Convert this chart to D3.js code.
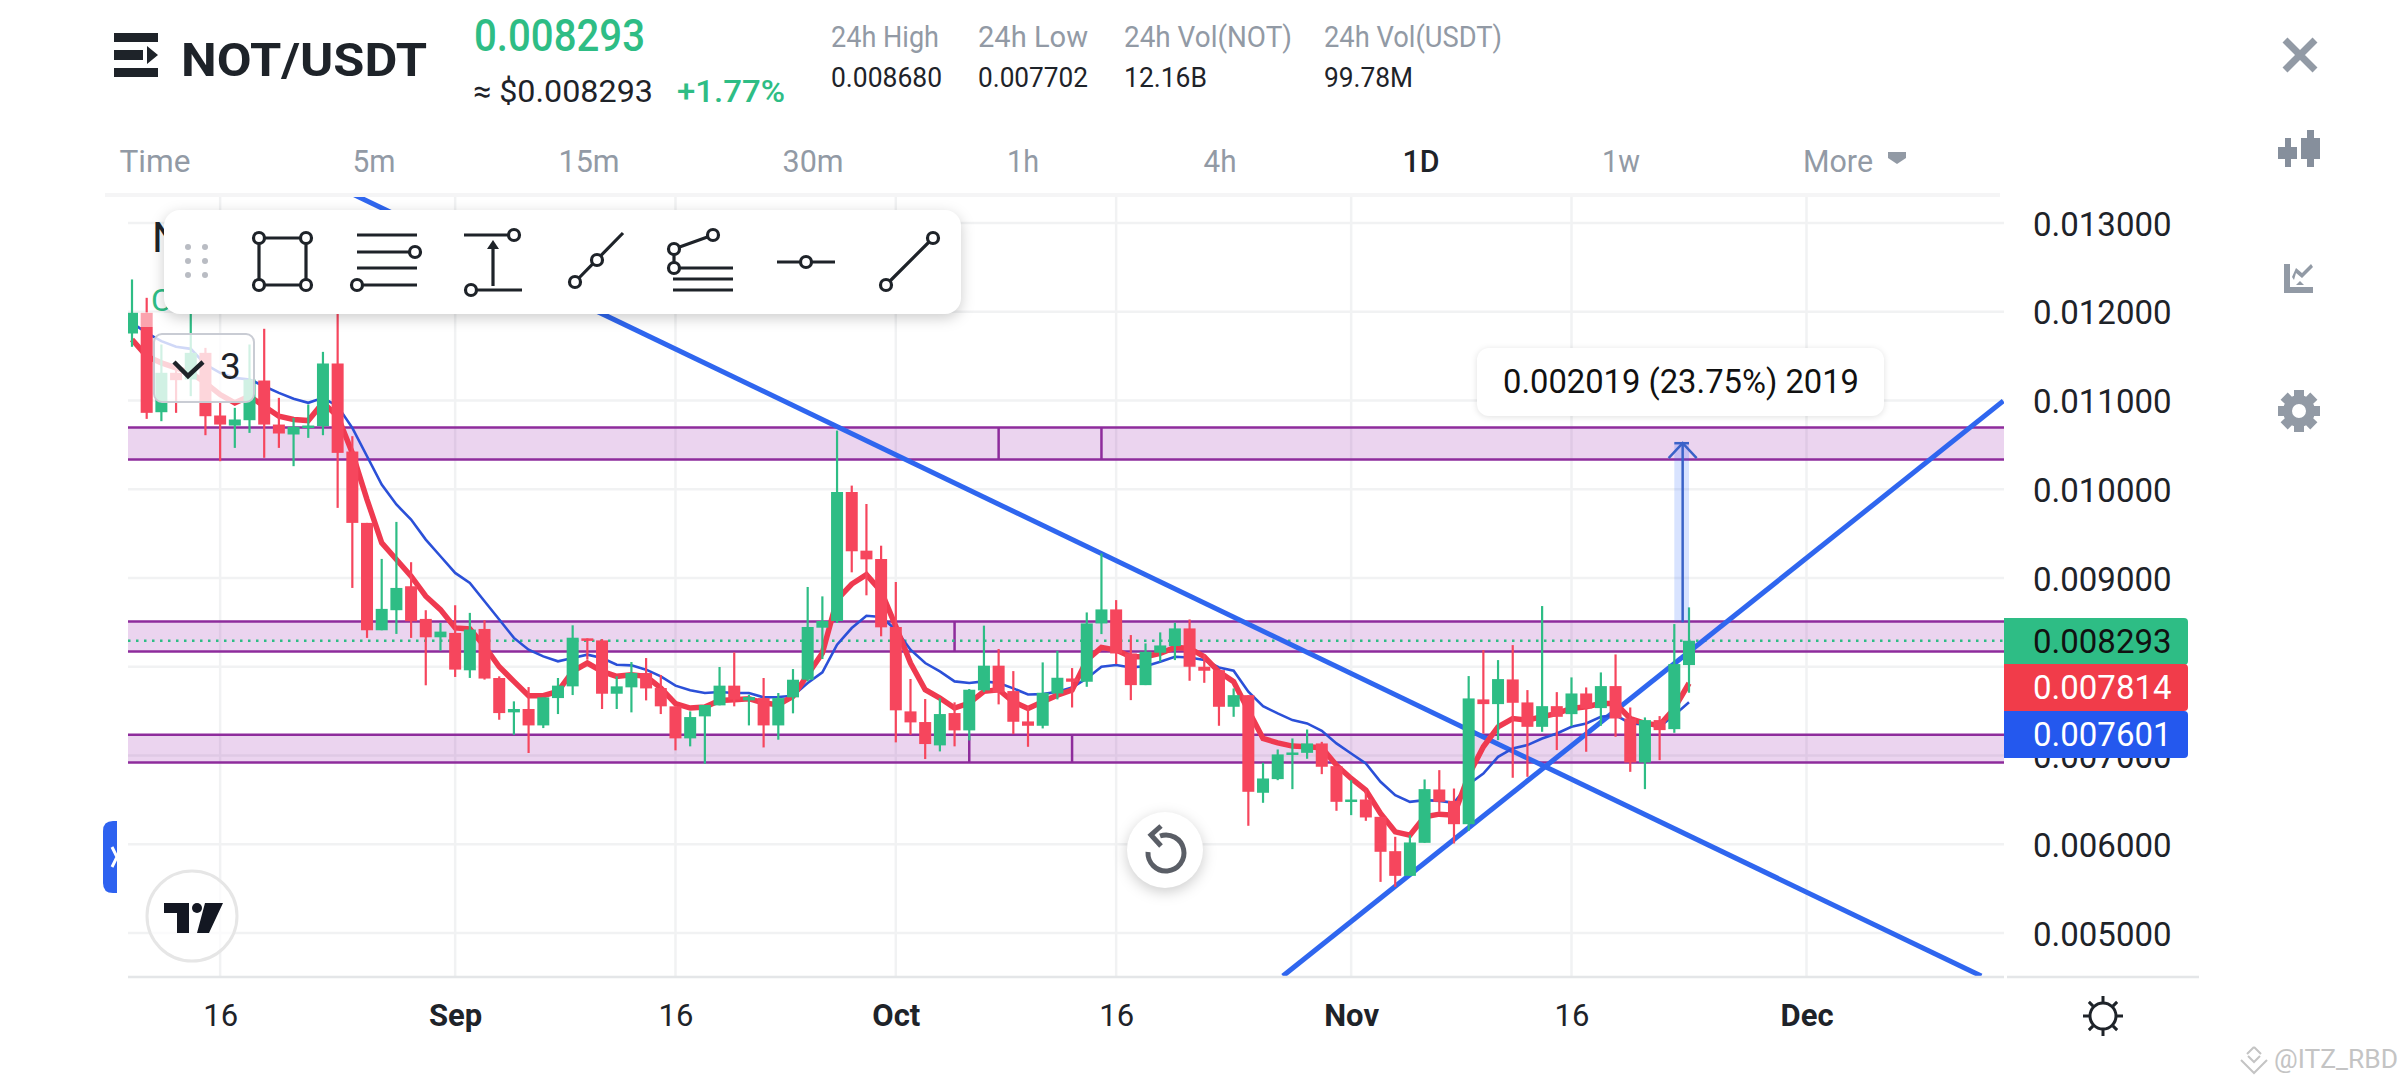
<!DOCTYPE html>
<html>
<head>
<meta charset="utf-8">
<script src="https://cdn.jsdelivr.net/npm/d3@7"></script>
<style>
  html, body { margin: 0; background: #fff; }
  svg { display: block; font-family: Roboto, sans-serif; }
  .soft { filter: drop-shadow(0 4px 7px rgba(0,0,0,.2)); }
  .faint { filter: drop-shadow(0 1px 3px rgba(0,0,0,.12)); }
  .axis path { display: none; }
  .axis line { display: none; }
</style>
</head>
<body>
<svg id="chart" width="2400" height="1080"></svg>
<script>
// all prices in millionths of a USDT, one entry per daily bar
const opens = [11755,11988,10868,11312,11237,11537,10831,10718,10778,11225,10729,10617,10703,10711,11417,10425,9621,8411,8637,8907,8539,8332,8381,7960,8426,7873,7486,7524,7339,7647,7779,8320,8297,7696,7768,7929,7760,7554,7193,7441,7565,7787,7621,7647,7339,7655,7854,8440,8515,9969,9308,9214,8448,7497,7377,7114,7478,7283,7734,8012,7726,7384,7335,7699,7868,7831,8488,8646,8150,7793,8158,8233,8432,8000,7962,7549,7680,6580,6734,7012,7030,7136,6880,6482,6504,6309,5922,5644,6016,6617,6489,6226,7632,7579,7857,7598,7323,7556,7466,7699,7534,7782,7417,6922,7399,7297,8019];
const highs = [12364,12157,11631,11420,12200,11593,10974,10917,11631,11808,11030,10804,10955,11548,12050,10598,9621,9215,9632,9178,8637,8494,8693,8607,8524,7892,7610,7771,7655,7873,8467,8320,8312,7892,8053,8098,7907,7554,7497,7569,7997,8162,7685,7873,7704,7974,8899,8793,10661,10041,9834,9364,8955,7862,7636,7647,7599,7749,8463,8200,7951,7549,8049,8180,7985,8612,9277,8751,8357,8263,8387,8496,8533,8139,7962,7756,7680,6918,7068,7192,7293,7154,6880,6722,6610,6309,6084,6102,6730,6835,6628,7895,8188,8075,8244,7737,8684,7714,7880,7767,7936,8139,7541,7429,7444,8481,8669];
const lows = [11605,10793,10767,10861,11049,10609,10316,10466,10635,10354,10466,10260,10579,10609,9790,8888,8325,8411,8370,8325,7791,8182,7885,7874,7855,7403,7234,7028,7309,7467,7681,8080,7524,7524,7486,7621,7467,7058,7103,6907,7565,7554,7339,7091,7178,7475,7835,8087,8493,9064,8805,8343,7148,7234,6960,7046,7103,7170,7715,7576,7241,7098,7305,7632,7541,7774,8368,8030,7624,7793,8056,8075,7842,7819,7335,7436,6208,6467,6722,6621,6963,6790,6377,6328,6264,5576,5520,5644,6016,6365,6009,6151,7248,7173,6749,6760,7267,7061,7331,7042,7335,7211,6816,6621,6948,7256,7707];
const closes = [11988,10861,11312,11229,11537,10823,10729,10786,11237,10729,10628,10703,10718,11417,10410,9621,8411,8652,8888,8513,8332,8396,7968,8419,7867,7478,7524,7339,7655,7787,8327,8305,7696,7779,7929,7756,7554,7193,7433,7569,7787,7629,7659,7339,7647,7854,8448,8515,9969,9301,9210,8444,7509,7373,7129,7467,7283,7741,8012,7711,7380,7335,7707,7876,7831,8488,8646,8150,7793,8169,8240,8432,8000,7955,7549,7680,6591,6741,7012,7034,7136,6873,6478,6504,6302,5915,5644,6020,6621,6478,6226,7643,7579,7861,7594,7323,7556,7436,7699,7530,7782,7417,6922,7399,7286,8030,8293];

const maFast = [11687,11500,11424,11368,11312,11199,11067,10974,11049,10936,10823,10786,10774,10974,10823,10410,9884,9396,9208,9020,8795,8644,8438,8426,8231,8000,7835,7674,7674,7723,7948,8042,7948,7892,7910,7892,7760,7584,7535,7546,7621,7629,7640,7591,7572,7666,7910,8155,8756,8932,9038,8850,8455,8042,7741,7647,7535,7591,7723,7741,7605,7530,7605,7680,7737,8075,8218,8188,8113,8113,8150,8218,8206,8113,7943,7831,7511,7192,7143,7106,7098,7087,6891,6741,6610,6347,6140,6102,6309,6339,6328,6779,7098,7323,7417,7399,7436,7474,7530,7549,7586,7586,7417,7361,7342,7530,7814];
const maSlow = [11875,11762,11669,11605,11582,11406,11312,11255,11237,11161,11086,11019,10974,11030,10936,10692,10372,10053,9828,9659,9433,9245,9057,8945,8738,8532,8325,8192,8117,8061,8098,8136,8098,8023,8016,7967,7892,7787,7734,7704,7715,7704,7704,7655,7659,7674,7817,7937,8249,8436,8575,8560,8418,8192,8042,7948,7835,7817,7835,7817,7756,7688,7692,7718,7767,7868,8000,8019,7992,8007,8056,8113,8105,8075,7992,7955,7718,7556,7474,7399,7361,7278,7136,7023,6910,6704,6553,6478,6497,6489,6467,6677,6797,6985,7079,7117,7192,7248,7323,7361,7436,7455,7361,7350,7323,7455,7601];

// drawn objects
const zoneTops = [10696, 8509, 7234];
const zoneBottoms = [10335, 8171, 6922];
const zoneDividers = [[59, 66], [56], [57, 64]];
const trendDownBars = [15, 125.9];
const trendDownPrices = [13328, 4515];
const trendUpBars = [78.35, 127.4];
const trendUpPrices = [4515, 10995];
const measureBars = [105, 106];
const measurePrices = [8500, 10519];
const lastPrices = [8293, 7814, 7601];

const yTicks = [5000, 6000, 7000, 8000, 9000, 10000, 11000, 12000, 13000];
// the 0.008000 label sits fully under the price tags, so it is not drawn
const yTickLabels = [5000, 6000, 7000, 9000, 10000, 11000, 12000, 13000];
const xTickBars = [6, 22, 37, 52, 67, 83, 98, 114];
const xTickLabels = ['16', 'Sep', '16', 'Oct', '16', 'Nov', '16', 'Dec'];

const tabs = ['Time', '5m', '15m', '30m', '1h', '4h', '1D', '1w', 'More'];
const tabCenters = [155, 374, 589, 813, 1023, 1220, 1421, 1621, 1838];
const tabWidths = [71, 43, 61, 61, 32, 33, 37, 38, 70];
const statNames = ['24h High', '24h Low', '24h Vol(NOT)', '24h Vol(USDT)'];
const statValues = ['0.008680', '0.007702', '12.16B', '99.78M'];
const statLefts = [831, 978, 1124, 1324];

const GREEN = '#2ebd85', RED = '#f6465d', INK = '#1e2329', GREY = '#929aa5';
const plotL = 128, plotR = 2004, plotT = 197, plotB = 976;

const svg = d3.select('#chart');
const x = d3.scaleLinear().domain([0, 106]).range([132, 1689]);
const y = d3.scaleLinear().domain([5000, 13000]).range([933, 223]);
const fmt = v => (v / 1e6).toFixed(6);

svg.append('defs').append('clipPath').attr('id', 'plot')
  .append('rect').attr('x', plotL).attr('y', plotT).attr('width', plotR - plotL).attr('height', plotB - plotT);

function label(parent, str, px, py, size, fill, weight, width, anchor) {
  const t = parent.append('text').attr('x', px).attr('y', py).attr('font-size', size)
    .attr('fill', fill).attr('font-weight', weight || 400).attr('text-anchor', anchor || 'start').text(str);
  if (width) t.attr('textLength', width).attr('lengthAdjust', 'spacingAndGlyphs');
  return t;
}

// header
const head = svg.append('g');
head.append('path').attr('fill', INK)
  .attr('d', 'M114 33H158V42H114ZM114 50H143V60H114ZM147 46L158 55L147 64ZM114 68H158V77H114Z');
label(head, 'NOT/USDT', 181, 76, 47, INK, 700, 246);
label(head, '0.008293', 474, 51, 44, GREEN, 500, 171);
label(head, '≈ $0.008293', 473, 102, 31, INK, 400, 180);
label(head, '+1.77%', 677, 102, 31, GREEN, 500, 108);
statNames.forEach((s, i) => label(head, s, statLefts[i], 47, 29, GREY, 400, [108, 110, 168, 178][i]));
statValues.forEach((s, i) => label(head, s, statLefts[i], 87, 28, INK, 400, [111, 110, 83, 89][i]));
tabs.forEach((s, i) => label(head, s, tabCenters[i], 172, 32, s === '1D' ? INK : GREY, s === '1D' ? 500 : 400, tabWidths[i], 'middle'));
head.append('path').attr('fill', GREY).attr('d', 'M1888 152H1906V158L1897 164L1888 158Z');
head.append('rect').attr('x', 105).attr('y', 193).attr('width', 1895).attr('height', 4).attr('fill', '#f5f5f6');

// grid
const grid = svg.append('g').attr('stroke', '#f1f2f3').attr('stroke-width', 2.5);
grid.selectAll('.h').data(yTicks).join('line').attr('class', 'h')
  .attr('x1', plotL).attr('x2', plotR).attr('y1', d => y(d)).attr('y2', d => y(d));
grid.selectAll('.v').data(xTickBars).join('line').attr('class', 'v')
  .attr('x1', d => x(d)).attr('x2', d => x(d)).attr('y1', plotT).attr('y2', plotB);

const plot = svg.append('g').attr('clip-path', 'url(#plot)');

// purple zones
zoneTops.forEach((t, i) => {
  plot.append('rect').attr('x', plotL).attr('width', plotR - plotL)
    .attr('y', y(t)).attr('height', y(zoneBottoms[i]) - y(t))
    .attr('fill', 'rgba(156,39,176,.2)');
  [t, zoneBottoms[i]].forEach(p => plot.append('line').attr('x1', plotL).attr('x2', plotR)
    .attr('y1', y(p)).attr('y2', y(p)).attr('stroke', '#8e2c9c').attr('stroke-width', 2.5));
  zoneDividers[i].forEach(b => plot.append('line').attr('x1', x(b)).attr('x2', x(b))
    .attr('y1', y(t)).attr('y2', y(zoneBottoms[i])).attr('stroke', '#8e2c9c').attr('stroke-width', 2.5));
});

// last price dotted line
plot.append('line').attr('x1', plotL).attr('x2', plotR).attr('y1', y(closes[106])).attr('y2', y(closes[106]))
  .attr('stroke', GREEN).attr('stroke-width', 2.5).attr('stroke-dasharray', '2.5 5.5');

// trend lines
[[trendDownBars, trendDownPrices], [trendUpBars, trendUpPrices]].forEach(([bars, prices]) => {
  plot.append('line').attr('x1', x(bars[0])).attr('y1', y(prices[0]))
    .attr('x2', x(bars[1])).attr('y2', y(prices[1]))
    .attr('stroke', '#2f66ef').attr('stroke-width', 5);
});

// moving averages
const ma = d3.line().x((d, i) => x(i)).y(d => y(d));
plot.append('path').attr('d', ma(maSlow)).attr('fill', 'none').attr('stroke', '#2b50d8').attr('stroke-width', 2.6);
plot.append('path').attr('d', ma(maFast)).attr('fill', 'none').attr('stroke', '#ef3a50').attr('stroke-width', 5.5);

// candles
const candles = plot.selectAll('.bar').data(opens).join('g').attr('class', 'bar')
  .attr('fill', (d, i) => closes[i] >= d ? GREEN : RED)
  .attr('stroke', (d, i) => closes[i] >= d ? GREEN : RED);
candles.append('line')
  .attr('x1', (d, i) => x(i)).attr('x2', (d, i) => x(i))
  .attr('y1', (d, i) => y(highs[i])).attr('y2', (d, i) => y(lows[i]))
  .attr('stroke-width', 2.2);
candles.append('rect')
  .attr('stroke', 'none')
  .attr('x', (d, i) => x(i) - 6).attr('width', 12)
  .attr('y', (d, i) => y(Math.max(d, closes[i])))
  .attr('height', (d, i) => Math.max(2.5, Math.abs(y(d) - y(closes[i]))));

// measure tool
const mx0 = x(measureBars[0]), mx1 = x(measureBars[1]), mc = (mx0 + mx1) / 2 + 1;
const my0 = y(measurePrices[0]), my1 = y(measurePrices[1]);
const measure = plot.append('g').attr('stroke', '#3a62c8').attr('fill', 'none');
measure.append('rect').attr('x', mx0).attr('width', mx1 - mx0).attr('y', my1).attr('height', my0 - my1)
  .attr('fill', 'rgba(41,98,255,.18)').attr('stroke', 'none');
measure.append('line').attr('x1', mc).attr('x2', mc).attr('y1', my1).attr('y2', my0).attr('stroke-width', 2.5);
measure.append('line').attr('x1', mx0).attr('x2', mx1).attr('y1', my1).attr('y2', my1).attr('stroke-width', 2.5);
measure.append('path').attr('d', `M${mc - 14} ${my1 + 15}L${mc} ${my1}L${mc + 14} ${my1 + 15}`).attr('stroke-width', 2.5);

// axes
svg.append('g').attr('class', 'axis').attr('transform', 'translate(2033,1.5)')
  .call(d3.axisRight(y).tickValues(yTickLabels).tickSize(0).tickPadding(0).tickFormat(fmt))
  .call(g => g.selectAll('text').attr('font-size', 33).attr('font-family', 'Roboto').attr('fill', INK));
svg.append('g').attr('class', 'axis').attr('transform', `translate(0,${plotB + 1})`)
  .call(d3.axisBottom(x).tickValues(xTickBars).tickSize(0).tickPadding(27).tickFormat((d, i) => xTickLabels[i]))
  .call(g => g.selectAll('text').attr('font-size', 31).attr('font-family', 'Roboto').attr('fill', INK)
    .attr('font-weight', (d, i) => xTickLabels[i] === '16' ? 400 : 700));
svg.append('line').attr('x1', plotL).attr('x2', plotR).attr('y1', 977).attr('y2', 977).attr('stroke', '#e4e6e8').attr('stroke-width', 2.5);
svg.append('line').attr('x1', 2007).attr('x2', 2199).attr('y1', 977).attr('y2', 977).attr('stroke', '#e4e6e8').attr('stroke-width', 2.5);

// price tags
const tagColors = [GREEN, '#f13c4a', '#2458ee'];
const tagText = ['#111', '#fff', '#fff'];
const tagTops = [618, 664, 711];
lastPrices.forEach((p, i) => {
  svg.append('path').attr('fill', tagColors[i])
    .attr('d', `M2004 ${tagTops[i]}H2184Q2188 ${tagTops[i]} 2188 ${tagTops[i] + 4}V${tagTops[i] + 43}Q2188 ${tagTops[i] + 47} 2184 ${tagTops[i] + 47}H2004Z`);
  label(svg, fmt(p), 2033, tagTops[i] + 35, 33, tagText[i]);
});

// measure label
svg.append('rect').attr('class', 'faint').attr('x', 1477).attr('y', 348).attr('width', 407).attr('height', 68).attr('rx', 12).attr('fill', '#fff');
label(svg, '0.002019 (23.75%) 2019', 1503, 393, 33, '#111', 400, 356);

// bits of legend behind the toolbar
label(svg, 'N', 152, 252, 42, INK);
label(svg, 'C', 151, 311, 32, GREEN);
svg.append('rect').attr('x', 140).attr('y', 312).attr('width', 24).attr('height', 15).attr('fill', 'rgba(255,255,255,.5)');

// drawing toolbar
const tb = svg.append('g');
tb.append('rect').attr('class', 'soft').attr('x', 164).attr('y', 210).attr('width', 797).attr('height', 104).attr('rx', 16).attr('fill', '#fff');
[188, 205].forEach(cx => [247, 261, 275].forEach(cy =>
  tb.append('circle').attr('cx', cx).attr('cy', cy).attr('r', 3).attr('fill', '#b9bcc3')));
const ic = tb.append('g').attr('stroke', INK).attr('stroke-width', 3.2).attr('fill', 'none');
const toolLines = 'M259 238H306V285H259ZM357 235H417M357 252H415M357 268H417M357 285H417M464 235H514M470 290H522M493 286V248M575 282L623 233M674 249L713 235M674 249V268M674 268H733M673 279H733M673 290H733M777 262H835M886 285L933 238';
ic.append('path').attr('d', toolLines);
const handles = [[259,238],[306,238],[259,285],[306,285],[415,252],[357,285],[514,235],[471,290],[575,282],[597,260],[674,249],[713,235],[674,268],[806,262],[886,285],[933,238]];
ic.selectAll('circle').data(handles).join('circle').attr('cx', d => d[0]).attr('cy', d => d[1]).attr('r', 5.5).attr('fill', '#fff');
tb.append('path').attr('fill', INK).attr('d', 'M487 249L493 240L499 249Z');

// collapsed indicators chip
svg.append('rect').attr('x', 154).attr('y', 334).attr('width', 100).attr('height', 68).attr('rx', 8)
  .attr('fill', 'rgba(255,255,255,.78)').attr('stroke', '#c9ccd4').attr('stroke-width', 2);
svg.append('path').attr('d', 'M174 362L188 376L203 362').attr('fill', 'none').attr('stroke', INK).attr('stroke-width', 4.5);
label(svg, '3', 220, 379, 37, INK);

// undo button
svg.append('circle').attr('class', 'soft').attr('cx', 1165).attr('cy', 850).attr('r', 38).attr('fill', '#fff');
svg.append('path').attr('fill', 'none').attr('stroke', '#5a5e66').attr('stroke-width', 5)
  .attr('d', 'M1148 852A18 18 0 1 0 1160 836M1161 826L1151 835L1161 846');

// tradingview badge and side tab
svg.append('circle').attr('cx', 192).attr('cy', 916).attr('r', 45).attr('fill', 'rgba(255,255,255,.7)').attr('stroke', '#e6e6e6').attr('stroke-width', 3);
svg.append('path').attr('fill', '#131722').attr('d', 'M164 903H189V933H177V913H164ZM205 903H223L209 933H197Z');
svg.append('circle').attr('cx', 197).attr('cy', 908).attr('r', 5).attr('fill', '#131722');
svg.append('path').attr('fill', '#2e62f0').attr('d', 'M117 821H113Q103 821 103 831V883Q103 893 113 893H117Z');
svg.append('path').attr('fill', 'none').attr('stroke', '#fff').attr('stroke-width', 3).attr('d', 'M112 847L117 857L112 867');

// right rail icons
const rail = svg.append('g').attr('fill', GREY);
rail.append('path').attr('fill', 'none').attr('stroke', GREY).attr('stroke-width', 7).attr('d', 'M2285 40L2315 70M2315 40L2285 70');
rail.append('path').attr('fill', '#868f9c').attr('d', 'M2285 138H2291V147H2297V159H2291V167H2285V159H2278V147H2285ZM2307 130H2314V138H2320V159H2314V167H2307V159H2301V138H2307Z');
rail.append('path').attr('d', 'M2284 264H2290V287H2313V293H2284ZM2292 277L2296 268L2302 273L2311 264L2313 267L2302 278L2296 273L2294 280ZM2300 281L2304 285H2296Z');
rail.append('path').attr('d', d3.range(8).map(i => {
  const a = i * Math.PI / 4, c = Math.cos(a), s = Math.sin(a);
  const pt = (u, v) => `${(2299 + u * c - v * s).toFixed(1)} ${(411 + u * s + v * c).toFixed(1)}`;
  return `M${pt(14, -5)}L${pt(21, -5)}L${pt(21, 5)}L${pt(14, 5)}Z`;
}).join(''));
rail.append('circle').attr('cx', 2299).attr('cy', 411).attr('r', 11.5).attr('fill', 'none').attr('stroke', GREY).attr('stroke-width', 9);

// theme toggle
const sun = svg.append('g').attr('stroke', INK).attr('stroke-width', 3).attr('fill', 'none');
sun.append('circle').attr('cx', 2103).attr('cy', 1016).attr('r', 13);
sun.append('path').attr('d', d3.range(8).map(i => {
  const a = i * Math.PI / 4;
  return `M${2103 + 14 * Math.cos(a)} ${1016 + 14 * Math.sin(a)}L${2103 + 20 * Math.cos(a)} ${1016 + 20 * Math.sin(a)}`;
}).join(''));

// watermark
svg.append('path').attr('fill', 'none').attr('stroke', '#c4c4c4').attr('stroke-width', 2)
  .attr('d', 'M2241 1060L2254 1073L2267 1060M2248 1056L2254 1062L2260 1056M2254 1047L2247 1054M2254 1047L2261 1054');
label(svg, '@ITZ_RBD', 2274, 1068, 25, '#c4c4c4', 400, 124);
</script>
</body>
</html>
